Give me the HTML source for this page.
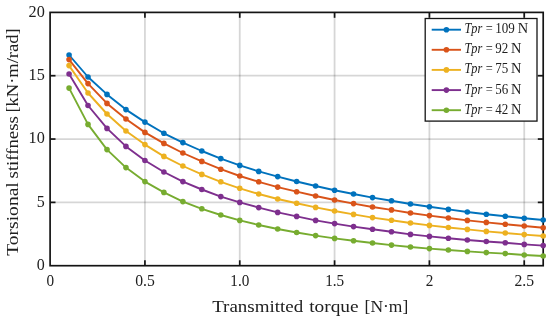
<!DOCTYPE html>
<html lang="en"><head><meta charset="utf-8"><title>Torsional stiffness vs transmitted torque</title>
<style>html,body{margin:0;padding:0;background:#fff;}body{width:550px;height:321px;overflow:hidden;}svg{display:block;}text{font-family:"Liberation Serif","DejaVu Serif",serif;fill:#202020;}</style>
</head><body>
<svg width="550" height="321" viewBox="0 0 550 321">
<rect x="0" y="0" width="550" height="321" fill="#ffffff"/>
<g stroke="#000" stroke-opacity="0.16" stroke-width="1.8" fill="none">
<line x1="144.93" y1="12.4" x2="144.93" y2="265.7"/>
<line x1="239.75" y1="12.4" x2="239.75" y2="265.7"/>
<line x1="334.58" y1="12.4" x2="334.58" y2="265.7"/>
<line x1="429.41" y1="12.4" x2="429.41" y2="265.7"/>
<line x1="524.23" y1="12.4" x2="524.23" y2="265.7"/>
<line x1="50.1" y1="202.38" x2="543.2" y2="202.38"/>
<line x1="50.1" y1="139.05" x2="543.2" y2="139.05"/>
<line x1="50.1" y1="75.72" x2="543.2" y2="75.72"/>
</g>
<g stroke="#141414" stroke-width="1.7" fill="none" stroke-linecap="butt">
<rect x="50.1" y="12.4" width="493.10" height="253.30"/>
<line x1="144.93" y1="265.7" x2="144.93" y2="260.3"/>
<line x1="144.93" y1="12.4" x2="144.93" y2="17.8"/>
<line x1="239.75" y1="265.7" x2="239.75" y2="260.3"/>
<line x1="239.75" y1="12.4" x2="239.75" y2="17.8"/>
<line x1="334.58" y1="265.7" x2="334.58" y2="260.3"/>
<line x1="334.58" y1="12.4" x2="334.58" y2="17.8"/>
<line x1="429.41" y1="265.7" x2="429.41" y2="260.3"/>
<line x1="429.41" y1="12.4" x2="429.41" y2="17.8"/>
<line x1="524.23" y1="265.7" x2="524.23" y2="260.3"/>
<line x1="524.23" y1="12.4" x2="524.23" y2="17.8"/>
<line x1="50.1" y1="202.38" x2="55.5" y2="202.38"/>
<line x1="543.2" y1="202.38" x2="537.8000000000001" y2="202.38"/>
<line x1="50.1" y1="139.05" x2="55.5" y2="139.05"/>
<line x1="543.2" y1="139.05" x2="537.8000000000001" y2="139.05"/>
<line x1="50.1" y1="75.72" x2="55.5" y2="75.72"/>
<line x1="543.2" y1="75.72" x2="537.8000000000001" y2="75.72"/>
</g>
<g fill="#0072BD" stroke="#0072BD">
<polyline points="69.07,55.00 88.03,77.00 107.00,94.40 125.96,109.60 144.93,122.10 163.89,133.30 182.86,142.60 201.82,151.00 220.79,158.60 239.75,165.40 258.72,171.40 277.68,176.60 296.65,181.50 315.62,186.00 334.58,190.20 353.55,194.00 372.51,197.60 391.48,200.80 410.44,204.00 429.41,206.80 448.37,209.40 467.34,212.00 486.30,214.20 505.27,216.20 524.23,218.20 543.20,220.00" fill="none" stroke-width="1.9" stroke-linejoin="round"/>
<circle cx="69.07" cy="55.00" r="2.8" stroke="none"/>
<circle cx="88.03" cy="77.00" r="2.8" stroke="none"/>
<circle cx="107.00" cy="94.40" r="2.8" stroke="none"/>
<circle cx="125.96" cy="109.60" r="2.8" stroke="none"/>
<circle cx="144.93" cy="122.10" r="2.8" stroke="none"/>
<circle cx="163.89" cy="133.30" r="2.8" stroke="none"/>
<circle cx="182.86" cy="142.60" r="2.8" stroke="none"/>
<circle cx="201.82" cy="151.00" r="2.8" stroke="none"/>
<circle cx="220.79" cy="158.60" r="2.8" stroke="none"/>
<circle cx="239.75" cy="165.40" r="2.8" stroke="none"/>
<circle cx="258.72" cy="171.40" r="2.8" stroke="none"/>
<circle cx="277.68" cy="176.60" r="2.8" stroke="none"/>
<circle cx="296.65" cy="181.50" r="2.8" stroke="none"/>
<circle cx="315.62" cy="186.00" r="2.8" stroke="none"/>
<circle cx="334.58" cy="190.20" r="2.8" stroke="none"/>
<circle cx="353.55" cy="194.00" r="2.8" stroke="none"/>
<circle cx="372.51" cy="197.60" r="2.8" stroke="none"/>
<circle cx="391.48" cy="200.80" r="2.8" stroke="none"/>
<circle cx="410.44" cy="204.00" r="2.8" stroke="none"/>
<circle cx="429.41" cy="206.80" r="2.8" stroke="none"/>
<circle cx="448.37" cy="209.40" r="2.8" stroke="none"/>
<circle cx="467.34" cy="212.00" r="2.8" stroke="none"/>
<circle cx="486.30" cy="214.20" r="2.8" stroke="none"/>
<circle cx="505.27" cy="216.20" r="2.8" stroke="none"/>
<circle cx="524.23" cy="218.20" r="2.8" stroke="none"/>
<circle cx="543.20" cy="220.00" r="2.8" stroke="none"/>
</g>
<g fill="#D95319" stroke="#D95319">
<polyline points="69.07,59.60 88.03,83.60 107.00,103.40 125.96,119.00 144.93,132.40 163.89,143.40 182.86,153.00 201.82,161.40 220.79,169.20 239.75,176.00 258.72,181.80 277.68,187.10 296.65,191.70 315.62,196.00 334.58,200.00 353.55,203.60 372.51,207.00 391.48,209.90 410.44,213.00 429.41,215.60 448.37,218.00 467.34,220.40 486.30,222.40 505.27,224.20 524.23,226.00 543.20,227.80" fill="none" stroke-width="1.9" stroke-linejoin="round"/>
<circle cx="69.07" cy="59.60" r="2.8" stroke="none"/>
<circle cx="88.03" cy="83.60" r="2.8" stroke="none"/>
<circle cx="107.00" cy="103.40" r="2.8" stroke="none"/>
<circle cx="125.96" cy="119.00" r="2.8" stroke="none"/>
<circle cx="144.93" cy="132.40" r="2.8" stroke="none"/>
<circle cx="163.89" cy="143.40" r="2.8" stroke="none"/>
<circle cx="182.86" cy="153.00" r="2.8" stroke="none"/>
<circle cx="201.82" cy="161.40" r="2.8" stroke="none"/>
<circle cx="220.79" cy="169.20" r="2.8" stroke="none"/>
<circle cx="239.75" cy="176.00" r="2.8" stroke="none"/>
<circle cx="258.72" cy="181.80" r="2.8" stroke="none"/>
<circle cx="277.68" cy="187.10" r="2.8" stroke="none"/>
<circle cx="296.65" cy="191.70" r="2.8" stroke="none"/>
<circle cx="315.62" cy="196.00" r="2.8" stroke="none"/>
<circle cx="334.58" cy="200.00" r="2.8" stroke="none"/>
<circle cx="353.55" cy="203.60" r="2.8" stroke="none"/>
<circle cx="372.51" cy="207.00" r="2.8" stroke="none"/>
<circle cx="391.48" cy="209.90" r="2.8" stroke="none"/>
<circle cx="410.44" cy="213.00" r="2.8" stroke="none"/>
<circle cx="429.41" cy="215.60" r="2.8" stroke="none"/>
<circle cx="448.37" cy="218.00" r="2.8" stroke="none"/>
<circle cx="467.34" cy="220.40" r="2.8" stroke="none"/>
<circle cx="486.30" cy="222.40" r="2.8" stroke="none"/>
<circle cx="505.27" cy="224.20" r="2.8" stroke="none"/>
<circle cx="524.23" cy="226.00" r="2.8" stroke="none"/>
<circle cx="543.20" cy="227.80" r="2.8" stroke="none"/>
</g>
<g fill="#EDB120" stroke="#EDB120">
<polyline points="69.07,65.60 88.03,93.00 107.00,114.00 125.96,131.00 144.93,144.60 163.89,156.40 182.86,166.00 201.82,174.40 220.79,181.80 239.75,188.30 258.72,194.00 277.68,199.00 296.65,203.30 315.62,207.40 334.58,211.00 353.55,214.40 372.51,217.60 391.48,220.30 410.44,223.00 429.41,225.40 448.37,227.50 467.34,229.40 486.30,231.40 505.27,233.00 524.23,234.60 543.20,236.00" fill="none" stroke-width="1.9" stroke-linejoin="round"/>
<circle cx="69.07" cy="65.60" r="2.8" stroke="none"/>
<circle cx="88.03" cy="93.00" r="2.8" stroke="none"/>
<circle cx="107.00" cy="114.00" r="2.8" stroke="none"/>
<circle cx="125.96" cy="131.00" r="2.8" stroke="none"/>
<circle cx="144.93" cy="144.60" r="2.8" stroke="none"/>
<circle cx="163.89" cy="156.40" r="2.8" stroke="none"/>
<circle cx="182.86" cy="166.00" r="2.8" stroke="none"/>
<circle cx="201.82" cy="174.40" r="2.8" stroke="none"/>
<circle cx="220.79" cy="181.80" r="2.8" stroke="none"/>
<circle cx="239.75" cy="188.30" r="2.8" stroke="none"/>
<circle cx="258.72" cy="194.00" r="2.8" stroke="none"/>
<circle cx="277.68" cy="199.00" r="2.8" stroke="none"/>
<circle cx="296.65" cy="203.30" r="2.8" stroke="none"/>
<circle cx="315.62" cy="207.40" r="2.8" stroke="none"/>
<circle cx="334.58" cy="211.00" r="2.8" stroke="none"/>
<circle cx="353.55" cy="214.40" r="2.8" stroke="none"/>
<circle cx="372.51" cy="217.60" r="2.8" stroke="none"/>
<circle cx="391.48" cy="220.30" r="2.8" stroke="none"/>
<circle cx="410.44" cy="223.00" r="2.8" stroke="none"/>
<circle cx="429.41" cy="225.40" r="2.8" stroke="none"/>
<circle cx="448.37" cy="227.50" r="2.8" stroke="none"/>
<circle cx="467.34" cy="229.40" r="2.8" stroke="none"/>
<circle cx="486.30" cy="231.40" r="2.8" stroke="none"/>
<circle cx="505.27" cy="233.00" r="2.8" stroke="none"/>
<circle cx="524.23" cy="234.60" r="2.8" stroke="none"/>
<circle cx="543.20" cy="236.00" r="2.8" stroke="none"/>
</g>
<g fill="#7E2F8E" stroke="#7E2F8E">
<polyline points="69.07,74.00 88.03,105.50 107.00,128.40 125.96,146.40 144.93,160.50 163.89,172.00 182.86,181.60 201.82,189.50 220.79,196.60 239.75,202.40 258.72,207.60 277.68,212.40 296.65,216.40 315.62,220.40 334.58,223.60 353.55,226.60 372.51,229.30 391.48,231.80 410.44,234.40 429.41,236.40 448.37,238.20 467.34,240.00 486.30,241.50 505.27,242.80 524.23,244.40 543.20,245.60" fill="none" stroke-width="1.9" stroke-linejoin="round"/>
<circle cx="69.07" cy="74.00" r="2.8" stroke="none"/>
<circle cx="88.03" cy="105.50" r="2.8" stroke="none"/>
<circle cx="107.00" cy="128.40" r="2.8" stroke="none"/>
<circle cx="125.96" cy="146.40" r="2.8" stroke="none"/>
<circle cx="144.93" cy="160.50" r="2.8" stroke="none"/>
<circle cx="163.89" cy="172.00" r="2.8" stroke="none"/>
<circle cx="182.86" cy="181.60" r="2.8" stroke="none"/>
<circle cx="201.82" cy="189.50" r="2.8" stroke="none"/>
<circle cx="220.79" cy="196.60" r="2.8" stroke="none"/>
<circle cx="239.75" cy="202.40" r="2.8" stroke="none"/>
<circle cx="258.72" cy="207.60" r="2.8" stroke="none"/>
<circle cx="277.68" cy="212.40" r="2.8" stroke="none"/>
<circle cx="296.65" cy="216.40" r="2.8" stroke="none"/>
<circle cx="315.62" cy="220.40" r="2.8" stroke="none"/>
<circle cx="334.58" cy="223.60" r="2.8" stroke="none"/>
<circle cx="353.55" cy="226.60" r="2.8" stroke="none"/>
<circle cx="372.51" cy="229.30" r="2.8" stroke="none"/>
<circle cx="391.48" cy="231.80" r="2.8" stroke="none"/>
<circle cx="410.44" cy="234.40" r="2.8" stroke="none"/>
<circle cx="429.41" cy="236.40" r="2.8" stroke="none"/>
<circle cx="448.37" cy="238.20" r="2.8" stroke="none"/>
<circle cx="467.34" cy="240.00" r="2.8" stroke="none"/>
<circle cx="486.30" cy="241.50" r="2.8" stroke="none"/>
<circle cx="505.27" cy="242.80" r="2.8" stroke="none"/>
<circle cx="524.23" cy="244.40" r="2.8" stroke="none"/>
<circle cx="543.20" cy="245.60" r="2.8" stroke="none"/>
</g>
<g fill="#77AC30" stroke="#77AC30">
<polyline points="69.07,88.10 88.03,124.40 107.00,149.60 125.96,167.60 144.93,181.60 163.89,192.40 182.86,201.60 201.82,208.80 220.79,215.00 239.75,220.40 258.72,225.00 277.68,229.00 296.65,232.50 315.62,235.60 334.58,238.40 353.55,240.80 372.51,243.00 391.48,245.10 410.44,247.00 429.41,248.60 448.37,250.00 467.34,251.40 486.30,252.60 505.27,253.60 524.23,255.00 543.20,256.00" fill="none" stroke-width="1.9" stroke-linejoin="round"/>
<circle cx="69.07" cy="88.10" r="2.8" stroke="none"/>
<circle cx="88.03" cy="124.40" r="2.8" stroke="none"/>
<circle cx="107.00" cy="149.60" r="2.8" stroke="none"/>
<circle cx="125.96" cy="167.60" r="2.8" stroke="none"/>
<circle cx="144.93" cy="181.60" r="2.8" stroke="none"/>
<circle cx="163.89" cy="192.40" r="2.8" stroke="none"/>
<circle cx="182.86" cy="201.60" r="2.8" stroke="none"/>
<circle cx="201.82" cy="208.80" r="2.8" stroke="none"/>
<circle cx="220.79" cy="215.00" r="2.8" stroke="none"/>
<circle cx="239.75" cy="220.40" r="2.8" stroke="none"/>
<circle cx="258.72" cy="225.00" r="2.8" stroke="none"/>
<circle cx="277.68" cy="229.00" r="2.8" stroke="none"/>
<circle cx="296.65" cy="232.50" r="2.8" stroke="none"/>
<circle cx="315.62" cy="235.60" r="2.8" stroke="none"/>
<circle cx="334.58" cy="238.40" r="2.8" stroke="none"/>
<circle cx="353.55" cy="240.80" r="2.8" stroke="none"/>
<circle cx="372.51" cy="243.00" r="2.8" stroke="none"/>
<circle cx="391.48" cy="245.10" r="2.8" stroke="none"/>
<circle cx="410.44" cy="247.00" r="2.8" stroke="none"/>
<circle cx="429.41" cy="248.60" r="2.8" stroke="none"/>
<circle cx="448.37" cy="250.00" r="2.8" stroke="none"/>
<circle cx="467.34" cy="251.40" r="2.8" stroke="none"/>
<circle cx="486.30" cy="252.60" r="2.8" stroke="none"/>
<circle cx="505.27" cy="253.60" r="2.8" stroke="none"/>
<circle cx="524.23" cy="255.00" r="2.8" stroke="none"/>
<circle cx="543.20" cy="256.00" r="2.8" stroke="none"/>
</g>
<g font-size="16.8" text-anchor="middle">
<text x="50.20" y="286.4" textLength="7.6" lengthAdjust="spacingAndGlyphs">0</text>
<text x="145.03" y="286.4" textLength="19.6" lengthAdjust="spacingAndGlyphs">0.5</text>
<text x="239.85" y="286.4" textLength="19.0" lengthAdjust="spacingAndGlyphs">1.0</text>
<text x="334.68" y="286.4" textLength="19.0" lengthAdjust="spacingAndGlyphs">1.5</text>
<text x="429.51" y="286.4" textLength="7.6" lengthAdjust="spacingAndGlyphs">2</text>
<text x="524.33" y="286.4" textLength="19.6" lengthAdjust="spacingAndGlyphs">2.5</text>
</g>
<g font-size="16.8" text-anchor="end">
<text x="44.8" y="269.90" textLength="8.0" lengthAdjust="spacingAndGlyphs">0</text>
<text x="44.8" y="206.57" textLength="8.0" lengthAdjust="spacingAndGlyphs">5</text>
<text x="44.8" y="143.25" textLength="16.2" lengthAdjust="spacingAndGlyphs">10</text>
<text x="44.8" y="79.92" textLength="16.2" lengthAdjust="spacingAndGlyphs">15</text>
<text x="44.8" y="16.60" textLength="16.2" lengthAdjust="spacingAndGlyphs">20</text>
</g>
<g font-size="16.5">
<text x="212.2" y="312.2" textLength="91" lengthAdjust="spacingAndGlyphs">Transmitted</text>
<text x="309.2" y="312.2" textLength="49.4" lengthAdjust="spacingAndGlyphs">torque</text>
<text x="364.6" y="312.2" textLength="43.6" lengthAdjust="spacingAndGlyphs">[N·m]</text>
</g>
<g font-size="17.4" transform="translate(18.3,0) rotate(-90)">
<text x="-255.8" y="0" textLength="73.6" lengthAdjust="spacingAndGlyphs">Torsional</text>
<text x="-178.4" y="0" textLength="62.2" lengthAdjust="spacingAndGlyphs">stiffness</text>
<text x="-112.6" y="0" textLength="84.2" lengthAdjust="spacingAndGlyphs">[kN·m/rad]</text>
</g>
<rect x="425.2" y="18.5" width="111.80" height="102.60" fill="#ffffff" stroke="#141414" stroke-width="1.3"/>
<line x1="431.7" y1="29.7" x2="461" y2="29.7" stroke="#0072BD" stroke-width="1.9"/>
<circle cx="446.4" cy="29.7" r="2.8" fill="#0072BD"/>
<text x="464.5" y="33.20" font-size="14.0" font-style="italic" textLength="17.8" lengthAdjust="spacingAndGlyphs">Tpr</text>
<text x="485.7" y="33.20" font-size="14.0" textLength="7.0" lengthAdjust="spacingAndGlyphs">=</text>
<text x="495.2" y="33.20" font-size="14.0" textLength="19.6" lengthAdjust="spacingAndGlyphs">109</text>
<text x="517.7" y="33.20" font-size="14.0" textLength="10.4" lengthAdjust="spacingAndGlyphs">N</text>
<line x1="431.7" y1="49.8" x2="461" y2="49.8" stroke="#D95319" stroke-width="1.9"/>
<circle cx="446.4" cy="49.8" r="2.8" fill="#D95319"/>
<text x="464.5" y="53.30" font-size="14.0" font-style="italic" textLength="17.8" lengthAdjust="spacingAndGlyphs">Tpr</text>
<text x="485.7" y="53.30" font-size="14.0" textLength="7.0" lengthAdjust="spacingAndGlyphs">=</text>
<text x="495.2" y="53.30" font-size="14.0" textLength="13.0" lengthAdjust="spacingAndGlyphs">92</text>
<text x="511.1" y="53.30" font-size="14.0" textLength="10.4" lengthAdjust="spacingAndGlyphs">N</text>
<line x1="431.7" y1="69.9" x2="461" y2="69.9" stroke="#EDB120" stroke-width="1.9"/>
<circle cx="446.4" cy="69.9" r="2.8" fill="#EDB120"/>
<text x="464.5" y="73.40" font-size="14.0" font-style="italic" textLength="17.8" lengthAdjust="spacingAndGlyphs">Tpr</text>
<text x="485.7" y="73.40" font-size="14.0" textLength="7.0" lengthAdjust="spacingAndGlyphs">=</text>
<text x="495.2" y="73.40" font-size="14.0" textLength="13.0" lengthAdjust="spacingAndGlyphs">75</text>
<text x="511.1" y="73.40" font-size="14.0" textLength="10.4" lengthAdjust="spacingAndGlyphs">N</text>
<line x1="431.7" y1="90.1" x2="461" y2="90.1" stroke="#7E2F8E" stroke-width="1.9"/>
<circle cx="446.4" cy="90.1" r="2.8" fill="#7E2F8E"/>
<text x="464.5" y="93.60" font-size="14.0" font-style="italic" textLength="17.8" lengthAdjust="spacingAndGlyphs">Tpr</text>
<text x="485.7" y="93.60" font-size="14.0" textLength="7.0" lengthAdjust="spacingAndGlyphs">=</text>
<text x="495.2" y="93.60" font-size="14.0" textLength="13.0" lengthAdjust="spacingAndGlyphs">56</text>
<text x="511.1" y="93.60" font-size="14.0" textLength="10.4" lengthAdjust="spacingAndGlyphs">N</text>
<line x1="431.7" y1="110.2" x2="461" y2="110.2" stroke="#77AC30" stroke-width="1.9"/>
<circle cx="446.4" cy="110.2" r="2.8" fill="#77AC30"/>
<text x="464.5" y="113.70" font-size="14.0" font-style="italic" textLength="17.8" lengthAdjust="spacingAndGlyphs">Tpr</text>
<text x="485.7" y="113.70" font-size="14.0" textLength="7.0" lengthAdjust="spacingAndGlyphs">=</text>
<text x="495.2" y="113.70" font-size="14.0" textLength="13.0" lengthAdjust="spacingAndGlyphs">42</text>
<text x="511.1" y="113.70" font-size="14.0" textLength="10.4" lengthAdjust="spacingAndGlyphs">N</text>
</svg>
</body></html>
